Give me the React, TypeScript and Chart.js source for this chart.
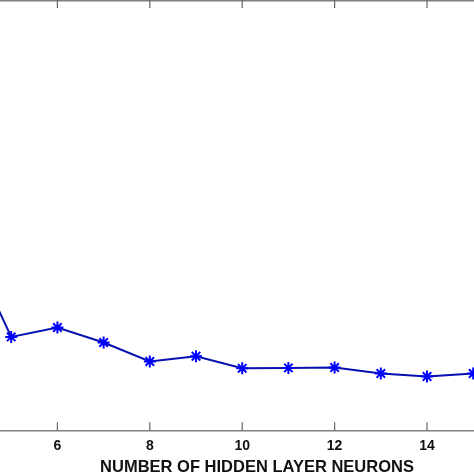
import { useRef, useEffect } from 'react';
import { Chart, registerables } from 'chart.js';

Chart.register(...registerables);

// hidden layer sizes and the error (normalised 0..1 on the hidden y axis)
const neurons = [4, 5, 6, 7, 8, 9, 10, 11, 12, 13, 14, 15];
const errors = [0.448, 0.217, 0.239, 0.204, 0.16, 0.172, 0.144, 0.145, 0.146, 0.132, 0.125, 0.132];
const xTicks = [6, 8, 10, 12, 14];
const xLabel = 'NUMBER OF HIDDEN LAYER NEURONS';

const FONT = "'Liberation Sans', Arial, Helvetica, sans-serif";
const AXIS_GRAY = '#808080';

// MATLAB-style box: top edge plus inward tick marks on top and bottom
const boxPlugin = {
  id: 'matlabBox',
  afterDraw(chart: Chart) {
    const { ctx, chartArea } = chart;
    const xs = chart.scales.x;
    ctx.save();
    ctx.strokeStyle = AXIS_GRAY;
    ctx.lineWidth = 1.5;
    ctx.beginPath();
    ctx.moveTo(chartArea.left, chartArea.top + 0.75);
    ctx.lineTo(chartArea.right, chartArea.top + 0.75);
    ctx.stroke();
    ctx.strokeStyle = '#666';
    ctx.lineWidth = 1.2;
    xs.ticks.forEach((t) => {
      const px = xs.getPixelForValue(t.value);
      ctx.beginPath();
      ctx.moveTo(px, chartArea.top);
      ctx.lineTo(px, chartArea.top + 8);
      ctx.moveTo(px, chartArea.bottom);
      ctx.lineTo(px, chartArea.bottom - 8);
      ctx.stroke();
    });
    ctx.restore();
  },
};

export default function App() {
  const canvasRef = useRef<HTMLCanvasElement>(null);

  useEffect(() => {
    document.body.style.margin = '0';
    if (!canvasRef.current) return;
    const ctx = canvasRef.current.getContext('2d');
    if (!ctx) return;

    const chart = new Chart(ctx, {
      type: 'line',
      data: {
        datasets: [{
          data: neurons.map((n, i) => ({ x: n, y: errors[i] })),
          borderColor: '#0710b0',
          borderWidth: 2,
          pointStyle: 'star',
          pointRadius: 6,
          pointBorderWidth: 2,
          pointBorderColor: '#0000ff',
          pointBackgroundColor: '#0000ff',
          tension: 0,
        }],
      },
      plugins: [boxPlugin],
      options: {
        animation: false,
        responsive: false,
        layout: { padding: 0, autoPadding: false },
        plugins: { legend: { display: false }, tooltip: { enabled: false } },
        scales: {
          x: {
            type: 'linear',
            min: 4,
            max: 16.64,
            afterBuildTicks: (scale) => {
              scale.ticks = xTicks.map((v) => ({ value: v }));
            },
            grid: { display: false, drawTicks: false },
            border: { display: true, color: AXIS_GRAY, width: 1.5 },
            ticks: {
              padding: 9,
              color: '#111',
              font: { family: FONT, size: 14, weight: 'bold', lineHeight: 1 },
              maxRotation: 0,
            },
            title: {
              display: true,
              text: xLabel,
              color: '#111',
              padding: { top: -1.5, bottom: 0 },
              font: { family: FONT, size: 16.5, weight: 'bold', lineHeight: 0.8 },
            },
          },
          y: {
            display: false,
            min: 0,
            max: 1,
          },
        },
      },
    });
    return () => { chart.destroy(); };
  }, []);

  return (
    <div style={{ position: 'relative', width: 474, height: 474, overflow: 'hidden', background: '#fff' }}>
      <canvas
        ref={canvasRef}
        width={584}
        height={474}
        style={{ position: 'absolute', left: -35, top: 0 }}
      />
    </div>
  );
}
